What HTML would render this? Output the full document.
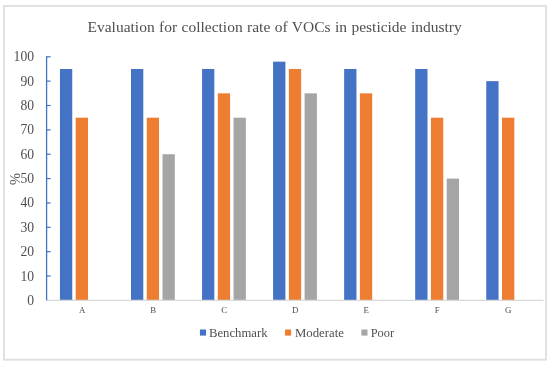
<!DOCTYPE html>
<html><head><meta charset="utf-8"><title>Evaluation for collection rate of VOCs in pesticide industry</title>
<style>
html,body{margin:0;padding:0;background:#fff;}
body{width:550px;height:365px;overflow:hidden;}
svg{display:block;}
text{font-family:"Liberation Serif","Times New Roman",serif;fill:#4f4f4f;}
</style></head><body>
<svg width="550" height="365" viewBox="0 0 550 365">
<rect x="0" y="0" width="550" height="365" fill="#ffffff"/>
<rect x="4" y="6" width="542" height="353.7" fill="none" stroke="#dedede" stroke-width="1.8"/>
<text x="87.5" y="32.2" font-size="15.5" word-spacing="0.54">Evaluation for collection rate of VOCs in pesticide industry</text>
<rect x="59.95" y="68.98" width="12.3" height="231.42" fill="#4472C4"/>
<rect x="75.70" y="117.70" width="12.3" height="182.70" fill="#ED7D31"/>
<text x="82.10" y="313.2" text-anchor="middle" font-size="8.8">A</text>
<rect x="131.00" y="68.98" width="12.3" height="231.42" fill="#4472C4"/>
<rect x="146.75" y="117.70" width="12.3" height="182.70" fill="#ED7D31"/>
<rect x="162.50" y="154.24" width="12.3" height="146.16" fill="#A5A5A5"/>
<text x="153.10" y="313.2" text-anchor="middle" font-size="8.8">B</text>
<rect x="202.05" y="68.98" width="12.3" height="231.42" fill="#4472C4"/>
<rect x="217.80" y="93.34" width="12.3" height="207.06" fill="#ED7D31"/>
<rect x="233.55" y="117.70" width="12.3" height="182.70" fill="#A5A5A5"/>
<text x="224.10" y="313.2" text-anchor="middle" font-size="8.8">C</text>
<rect x="273.10" y="61.67" width="12.3" height="238.73" fill="#4472C4"/>
<rect x="288.85" y="68.98" width="12.3" height="231.42" fill="#ED7D31"/>
<rect x="304.60" y="93.34" width="12.3" height="207.06" fill="#A5A5A5"/>
<text x="295.10" y="313.2" text-anchor="middle" font-size="8.8">D</text>
<rect x="344.15" y="68.98" width="12.3" height="231.42" fill="#4472C4"/>
<rect x="359.90" y="93.34" width="12.3" height="207.06" fill="#ED7D31"/>
<text x="366.10" y="313.2" text-anchor="middle" font-size="8.8">E</text>
<rect x="415.20" y="68.98" width="12.3" height="231.42" fill="#4472C4"/>
<rect x="430.95" y="117.70" width="12.3" height="182.70" fill="#ED7D31"/>
<rect x="446.70" y="178.60" width="12.3" height="121.80" fill="#A5A5A5"/>
<text x="437.10" y="313.2" text-anchor="middle" font-size="8.8">F</text>
<rect x="486.25" y="81.16" width="12.3" height="219.24" fill="#4472C4"/>
<rect x="502.00" y="117.70" width="12.3" height="182.70" fill="#ED7D31"/>
<text x="508.10" y="313.2" text-anchor="middle" font-size="8.8">G</text>
<line x1="46.6" y1="300.4" x2="543.6" y2="300.4" stroke="#d9d9d9" stroke-width="1.1"/>
<line x1="46.6" y1="56.19999999999998" x2="46.6" y2="300.4" stroke="#4472C4" stroke-width="1.3"/>
<text x="34" y="304.90" text-anchor="end" font-size="13.6">0</text>
<line x1="46.6" y1="276.04" x2="50.6" y2="276.04" stroke="#4472C4" stroke-width="1.2"/>
<text x="34" y="280.54" text-anchor="end" font-size="13.6">10</text>
<line x1="46.6" y1="251.68" x2="50.6" y2="251.68" stroke="#4472C4" stroke-width="1.2"/>
<text x="34" y="256.18" text-anchor="end" font-size="13.6">20</text>
<line x1="46.6" y1="227.32" x2="50.6" y2="227.32" stroke="#4472C4" stroke-width="1.2"/>
<text x="34" y="231.82" text-anchor="end" font-size="13.6">30</text>
<line x1="46.6" y1="202.96" x2="50.6" y2="202.96" stroke="#4472C4" stroke-width="1.2"/>
<text x="34" y="207.46" text-anchor="end" font-size="13.6">40</text>
<line x1="46.6" y1="178.60" x2="50.6" y2="178.60" stroke="#4472C4" stroke-width="1.2"/>
<text x="34" y="183.10" text-anchor="end" font-size="13.6">50</text>
<line x1="46.6" y1="154.24" x2="50.6" y2="154.24" stroke="#4472C4" stroke-width="1.2"/>
<text x="34" y="158.74" text-anchor="end" font-size="13.6">60</text>
<line x1="46.6" y1="129.88" x2="50.6" y2="129.88" stroke="#4472C4" stroke-width="1.2"/>
<text x="34" y="134.38" text-anchor="end" font-size="13.6">70</text>
<line x1="46.6" y1="105.52" x2="50.6" y2="105.52" stroke="#4472C4" stroke-width="1.2"/>
<text x="34" y="110.02" text-anchor="end" font-size="13.6">80</text>
<line x1="46.6" y1="81.16" x2="50.6" y2="81.16" stroke="#4472C4" stroke-width="1.2"/>
<text x="34" y="85.66" text-anchor="end" font-size="13.6">90</text>
<line x1="46.6" y1="56.80" x2="50.6" y2="56.80" stroke="#4472C4" stroke-width="1.2"/>
<text x="34" y="61.30" text-anchor="end" font-size="13.6">100</text>
<text transform="translate(19.7,179.0) rotate(-90)" text-anchor="middle" font-size="14.4">%</text>
<rect x="199.9" y="329.5" width="6.1" height="6.1" fill="#4472C4"/>
<text x="209" y="336.6" font-size="13.3" textLength="58.6" lengthAdjust="spacingAndGlyphs">Benchmark</text>
<rect x="285" y="329.5" width="6.1" height="6.1" fill="#ED7D31"/>
<text x="295" y="336.6" font-size="13.3" textLength="48.9" lengthAdjust="spacingAndGlyphs">Moderate</text>
<rect x="361.4" y="329.5" width="6.1" height="6.1" fill="#A5A5A5"/>
<text x="370.7" y="336.6" font-size="13.3" textLength="23.4" lengthAdjust="spacingAndGlyphs">Poor</text>
</svg>
</body></html>
